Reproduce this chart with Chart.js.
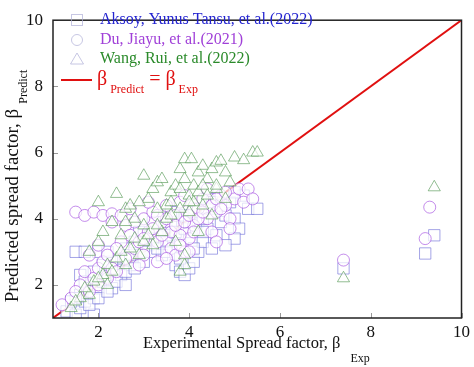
<!DOCTYPE html>
<html>
<head>
<meta charset="utf-8">
<script src="https://cdn.jsdelivr.net/npm/chart.js@4.4.1/dist/chart.umd.min.js"></script>
<style>
  html, body { margin: 0; padding: 0; background: #fff; }
  #wrap { width: 474px; height: 367px; }
</style>
</head>
<body>
<div id="wrap"><canvas id="c"></canvas></div>
<script>
// data, [x, y]
var aksoyPts = [
  [1.3,1.2],[1.5,1.1],[1.6,1.3],[1.7,1.5],[1.6,1.7],[1.8,1.9],[1.5,1.6],[1.9,1.6],[2.0,1.9],[2.1,2.1],
  [1.6,2.3],[1.7,2.1],[2.2,2.3],[2.4,2.5],[2.5,2.8],[2.3,2.7],[1.5,3.0],[1.7,3.0],[2.0,3.0],[2.2,3.0],
  [2.6,3.1],[2.8,3.3],[2.9,2.9],[3.0,3.5],[3.1,3.2],[3.2,3.0],[3.3,3.6],[3.4,3.3],[3.5,3.8],[3.6,3.5],
  [3.4,2.9],[3.7,2.6],[3.8,2.4],[3.9,2.3],[4.0,2.5],[3.8,2.8],[4.1,2.7],[4.2,3.0],[4.3,3.3],[4.0,3.6],
  [4.2,3.9],[4.4,3.7],[4.5,3.1],[4.6,3.5],[4.7,3.9],[4.8,4.1],[4.5,4.3],[4.9,4.5],[5.0,4.0],[5.1,3.7],
  [5.2,4.7],[5.3,4.3],[5.5,4.3],[5.0,4.8],[4.6,4.6],[3.9,4.1],[3.6,4.2],[3.2,3.9],[2.9,3.6],[2.7,2.6],
  [2.5,2.3],[5.0,3.4],[4.8,3.2],[1.9,1.1],[2.3,1.9],[4.4,4.6],[3.0,2.7],
  [1.4,1.5],[1.8,1.4],[2.0,1.6],[2.2,1.8],[2.4,2.1],[2.6,2.4],[2.8,2.5],[2.7,2.9],[3.0,3.0],[3.2,3.4],
  [3.3,3.1],[3.5,3.3],[3.6,3.9],[3.7,3.6],[3.8,3.2],[3.9,3.7],[4.0,3.9],[4.1,4.2],[4.3,4.0],[4.4,4.3],
  [4.5,4.5],[4.7,4.4],[4.3,3.6],[4.1,3.1],[2.1,2.6],[1.9,2.4],[2.6,2.0],[3.5,3.0],
  [7.4,2.5],[9.2,2.95],[9.4,3.5]
];
var duPts = [
  [1.2,1.4],[1.4,1.6],[1.6,2.0],[1.7,2.4],[1.9,2.2],[2.0,2.5],[2.1,2.7],[1.5,4.2],[1.7,4.1],[1.9,4.2],
  [2.1,4.1],[2.3,4.15],[2.5,4.1],[2.3,3.9],[2.6,3.8],[2.5,3.3],[2.4,3.1],[2.7,3.5],[2.8,3.9],[3.0,4.0],
  [3.1,3.6],[3.2,4.2],[3.3,3.3],[3.4,3.9],[3.5,4.4],[3.6,3.6],[3.7,4.1],[3.8,4.5],[3.6,3.1],[3.7,2.9],
  [3.9,3.0],[4.0,3.4],[4.1,3.8],[4.2,4.3],[4.3,4.6],[4.4,4.0],[4.5,3.6],[4.6,4.2],[4.7,4.7],[4.8,4.4],
  [4.9,4.0],[5.0,4.6],[5.1,4.9],[5.2,4.5],[5.3,4.9],[5.4,4.6],[4.9,3.7],[4.6,3.3],[3.3,2.7],[3.0,2.9],
  [2.8,3.1],[2.2,2.9],[2.0,3.2],[1.8,2.9],[3.9,4.7],[4.1,4.3],[2.7,4.3],[3.1,4.5],[4.4,4.9],[3.8,3.5],
  [1.5,1.8],[1.8,1.8],[2.2,2.2],[2.3,2.5],[2.6,2.8],[2.9,3.3],[3.0,3.4],[3.2,3.7],[3.4,3.5],[3.5,4.0],
  [3.7,3.8],[3.9,3.9],[4.0,4.1],[4.2,4.0],[4.3,4.2],[4.5,4.4],[4.6,4.6],[4.7,4.3],[3.8,3.2],[4.0,3.0],
  [3.5,2.8],[2.9,2.6],[2.4,2.4],[2.0,2.0],[4.1,3.6],[3.3,4.1],[4.8,4.8],
  [7.4,2.75],[9.2,3.4],[9.3,4.35]
];
var wangPts = [
  [1.4,1.3],[1.6,1.6],[1.8,1.7],[1.9,2.1],[2.1,2.3],[2.2,2.0],[2.0,3.3],[1.8,3.0],[2.1,3.6],[2.0,4.5],
  [2.4,4.75],[2.3,3.9],[2.5,3.5],[2.6,4.3],[2.7,4.4],[2.8,4.0],[3.0,5.3],[3.1,4.6],[3.2,4.9],[3.3,5.1],
  [3.4,5.2],[3.5,4.4],[3.6,4.8],[3.7,5.0],[3.8,5.5],[3.9,5.8],[4.05,5.8],[3.9,5.2],[4.0,4.7],[4.1,5.0],
  [4.2,5.4],[4.3,5.6],[4.4,5.2],[4.5,5.5],[4.6,5.7],[4.7,5.75],[4.8,5.4],[5.0,5.85],[5.2,5.77],[5.4,6.0],
  [5.5,6.0],[4.9,5.1],[4.6,4.9],[4.3,4.4],[4.0,4.2],[3.8,2.4],[3.9,2.6],[3.9,2.9],[3.7,3.3],[3.4,3.6],
  [3.2,3.2],[3.0,3.8],[2.9,2.9],[2.6,2.6],[2.4,2.8],[4.2,3.6],[4.5,4.1],[4.8,4.6],[3.5,4.0],[4.1,4.5],
  [1.5,1.5],[1.7,1.9],[2.0,2.2],[2.2,2.6],[2.3,2.4],[2.5,3.0],[2.7,3.1],[2.8,3.4],[3.0,3.3],[3.1,3.5],
  [3.3,3.8],[3.6,4.1],[3.8,4.3],[4.0,4.5],[4.2,4.8],[4.4,4.7],[4.6,5.0],[3.3,4.3],[3.6,4.5],[2.9,4.5],
  [2.6,3.9],[3.8,4.9],[4.3,5.0],
  [7.4,2.2],[9.4,4.95]
];
var idealLine = [[1,1],[10,10]];

var seriesNames = ["Aksoy, Yunus Tansu, et al.(2022)", "Du, Jiayu, et al.(2021)", "Wang, Rui, et al.(2022)"];
var xTicks = [2, 4, 6, 8, 10];
var yTicks = [2, 4, 6, 8, 10];

function toXY(arr) {
  return arr.map(function(p) { return { x: p[0], y: p[1] }; });
}

var serif = '"Liberation Serif", "Times New Roman", serif';

var extras = {
  id: 'extras',
  afterDraw: function(chart) {
    var ctx = chart.ctx;
    var a = chart.chartArea;
    var xs = chart.scales.x, ys = chart.scales.y;
    ctx.save();

    // small inside tick marks
    ctx.strokeStyle = '#999';
    ctx.lineWidth = 1;
    xTicks.forEach(function(v) {
      var px = Math.round(xs.getPixelForValue(v)) + 0.5;
      ctx.beginPath(); ctx.moveTo(px, a.bottom); ctx.lineTo(px, a.bottom - 5); ctx.stroke();
    });
    yTicks.forEach(function(v) {
      var py = Math.round(ys.getPixelForValue(v)) + 0.5;
      ctx.beginPath(); ctx.moveTo(a.left, py); ctx.lineTo(a.left + 5, py); ctx.stroke();
    });

    // frame
    ctx.strokeStyle = '#222';
    ctx.lineWidth = 1.5;
    ctx.strokeRect(a.left, a.top, a.right - a.left, a.bottom - a.top);

    // legend
    var lx = 77, tx = 100;
    var rows = [20, 40, 59];
    var textCols = ['#2424d0', '#a040d8', '#2a8a2a'];
    ctx.strokeStyle = 'rgba(175,175,215,0.7)';
    ctx.lineWidth = 1;
    ctx.strokeRect(lx - 5.5, rows[0] - 5.5, 11, 11);
    ctx.beginPath(); ctx.arc(lx, rows[1], 5.5, 0, Math.PI * 2); ctx.stroke();
    ctx.beginPath();
    ctx.moveTo(lx, rows[2] - 6); ctx.lineTo(lx + 6.5, rows[2] + 5); ctx.lineTo(lx - 6.5, rows[2] + 5); ctx.closePath();
    ctx.stroke();

    ctx.font = '16px ' + serif;
    ctx.textBaseline = 'middle';
    ctx.textAlign = 'left';
    for (var i = 0; i < seriesNames.length; i++) {
      ctx.fillStyle = textCols[i];
      ctx.fillText(seriesNames[i], tx, rows[i]);
    }

    // red line legend entry
    var ry = 80;
    ctx.strokeStyle = '#e01010';
    ctx.lineWidth = 2;
    ctx.beginPath(); ctx.moveTo(61, ry); ctx.lineTo(92, ry); ctx.stroke();
    ctx.fillStyle = '#e01010';
    var cx = 97;
    ctx.font = '20px ' + serif;
    ctx.fillText('\u03b2', cx, ry); cx += ctx.measureText('\u03b2').width + 3;
    ctx.font = '12px ' + serif;
    ctx.fillText('Predict', cx, ry + 10); cx += ctx.measureText('Predict').width + 5;
    ctx.font = '20px ' + serif;
    ctx.fillText('= \u03b2', cx, ry); cx += ctx.measureText('= \u03b2').width + 3;
    ctx.font = '12px ' + serif;
    ctx.fillText('Exp', cx, ry + 10);

    // x axis title
    ctx.fillStyle = '#111';
    var xt = 'Experimental Spread factor, \u03b2';
    ctx.font = '16.5px ' + serif;
    var mainW = ctx.measureText(xt).width;
    var startX = 143;
    ctx.fillText(xt, startX, 344);
    ctx.font = '12px ' + serif;
    ctx.fillText('Exp', startX + mainW + 10, 359);

    // y axis title
    ctx.translate(13, 186);
    ctx.rotate(-Math.PI / 2);
    ctx.font = '19px ' + serif;
    var yt = 'Predicted spread factor, \u03b2';
    var yw = ctx.measureText(yt).width;
    ctx.font = '12px ' + serif;
    var ysw = ctx.measureText('Predict').width;
    var total = yw + 5 + ysw;
    var sx = -total / 2;
    ctx.font = '19px ' + serif;
    ctx.fillText(yt, sx, 0);
    ctx.font = '12px ' + serif;
    ctx.fillText('Predict', sx + yw + 5, 11);

    ctx.restore();
  }
};

var ctxC = document.getElementById('c').getContext('2d');
new Chart(ctxC, {
  type: 'scatter',
  data: {
    datasets: [
      {
        label: seriesNames[0],
        data: toXY(aksoyPts),
        pointStyle: 'rect',
        pointRadius: 8,
        borderWidth: 1,
        borderColor: 'rgba(105,105,215,0.6)',
        backgroundColor: 'rgba(255,255,255,0.7)',
        order: 3
      },
      {
        label: seriesNames[1],
        data: toXY(duPts),
        pointStyle: 'circle',
        pointRadius: 6,
        borderWidth: 1,
        borderColor: 'rgba(165,80,225,0.65)',
        backgroundColor: 'rgba(255,255,255,0.7)',
        order: 2
      },
      {
        label: seriesNames[2],
        data: toXY(wangPts),
        pointStyle: 'triangle',
        pointRadius: 7,
        borderWidth: 1,
        borderColor: 'rgba(80,150,80,0.62)',
        backgroundColor: 'rgba(255,255,255,0.7)',
        order: 1
      },
      {
        type: 'line',
        label: 'ideal',
        data: toXY(idealLine),
        borderColor: '#e01010',
        borderWidth: 2,
        pointRadius: 0,
        fill: false,
        order: 10
      }
    ]
  },
  options: {
    responsive: true,
    maintainAspectRatio: false,
    animation: false,
    layout: { padding: { top: 10, right: 9, left: 0, bottom: 0 } },
    plugins: { legend: { display: false }, tooltip: { enabled: false } },
    scales: {
      x: {
        type: 'linear',
        min: 1, max: 10,
        afterBuildTicks: function(s) { s.ticks = xTicks.map(function(v) { return { value: v }; }); },
        afterFit: function(s) { s.height = 49; },
        grid: { display: false, drawTicks: false },
        border: { display: false },
        ticks: { color: '#111', padding: 4, font: { family: serif, size: 17 } }
      },
      y: {
        type: 'linear',
        min: 1, max: 10,
        afterBuildTicks: function(s) { s.ticks = yTicks.map(function(v) { return { value: v }; }); },
        afterFit: function(s) { s.width = 53; },
        grid: { display: false, drawTicks: false },
        border: { display: false },
        ticks: { color: '#111', padding: 10, font: { family: serif, size: 17 } }
      }
    }
  },
  plugins: [extras]
});
</script>
</body>
</html>
